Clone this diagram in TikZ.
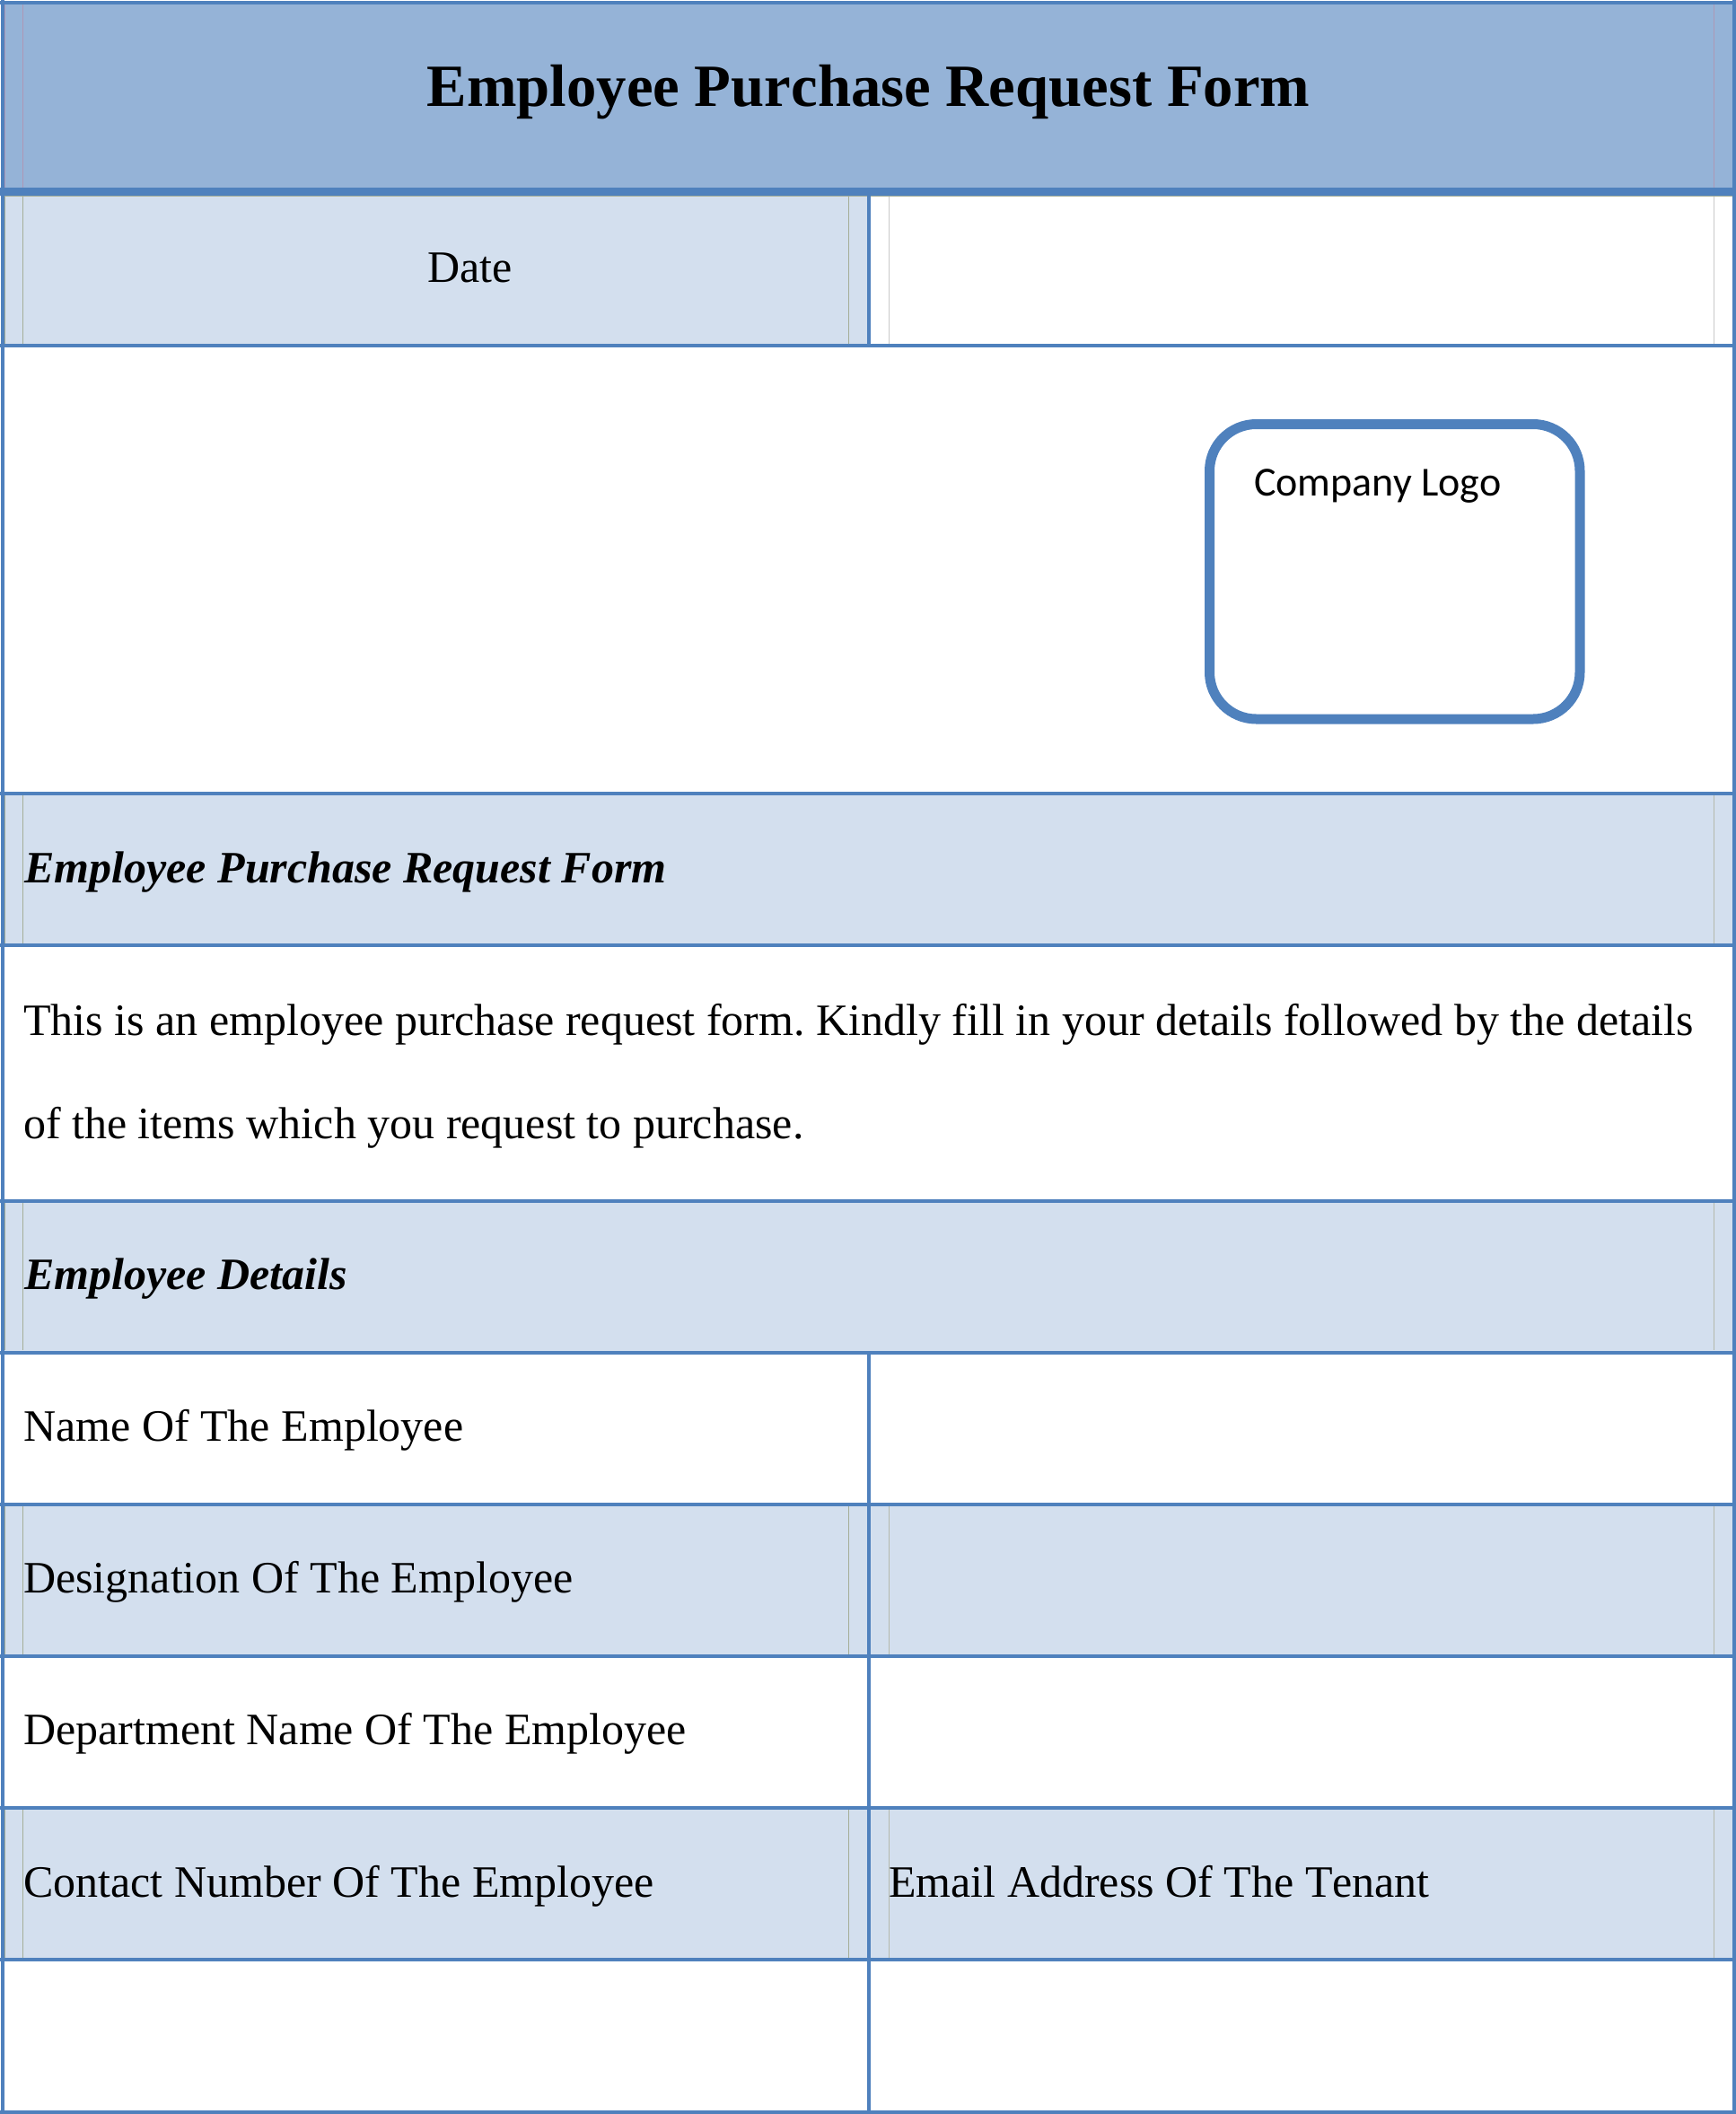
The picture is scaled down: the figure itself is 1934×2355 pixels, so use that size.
\documentclass[tikz,border=0pt]{standalone}
\usepackage{fontspec}
\setmainfont[Kerning=Off]{Liberation Serif}
\newfontfamily\logofont{Carlito}
\definecolor{rule}{HTML}{4F81BD}
\definecolor{headfill}{HTML}{95B3D7}
\definecolor{bandfill}{HTML}{D3DFEE}
\definecolor{faintband}{HTML}{A5AE98}
\definecolor{faintwhite}{HTML}{C9C9C9}
\definecolor{facepink}{HTML}{AD98B5}
\frenchspacing
\tikzset{
  bodytext/.style={anchor=base west,inner sep=0pt,font=\fontsize{50}{58}\selectfont},
  bandtext/.style={bodytext,font=\fontsize{50}{58}\selectfont\bfseries\itshape},
  titletext/.style={anchor=base,inner sep=0pt,font=\fontsize{66.7}{78}\selectfont\bfseries},
  logotext/.style={anchor=base west,inner sep=0pt,font=\logofont\fontsize{46}{54}\selectfont},
  rowline/.style={draw=rule,line width=4pt},
  heavyline/.style={draw=rule,line width=9pt},
  guide/.style={line width=1pt},
  logobox/.style={draw=rule,fill=white,line width=11pt,rounded corners=52pt}
}
\begin{document}
\begin{tikzpicture}[x=1pt,y=-1pt]
\useasboundingbox (0,0) rectangle (1934,2355);
\fill[white] (0,0) rectangle (1934,2355);
% fills
\fill[headfill] (3,3) rectangle (1931,213);
\foreach \a/\b in {218/385,884/1053,1337/1506,1676/1845,2014/2183}
  \fill[bandfill] (3,\a) rectangle (1931,\b);
\fill[white] (968,218) rectangle (1931,385);
% faint guide lines
\foreach \x in {5,25,1909}
  \draw[guide,facepink] (\x,5) -- (\x,209);
\foreach \a/\b in {218/383,884/1051,1337/1504,1676/1843,2014/2181}
  \foreach \x in {5,25}
    \draw[guide,faintband] (\x,\a) -- (\x,\b);
\draw[guide,faintwhite] (1909,218) -- (1909,383);
\foreach \a/\b in {884/1051,1337/1504,1676/1843,2014/2181}
  \draw[guide,faintband!60!faintwhite] (1909,\a) -- (1909,\b);
\foreach \a/\b in {218/383,1676/1843,2014/2181}
  \draw[guide,faintband] (945,\a) -- (945,\b);
\draw[guide,faintwhite] (990,218) -- (990,383);
\foreach \a/\b in {1676/1843,2014/2181}
  \draw[guide,faintband!60!faintwhite] (990,\a) -- (990,\b);
\draw[guide,faintband] (5,218.5) -- (1930,218.5);
% rules
\foreach \y in {385,884,1053,1338,1506.5,1676,1845,2014,2183,2353}
  \draw[rowline] (0,\y) -- (1934,\y);
\draw[rowline] (0,3) -- (1934,3);
\draw[heavyline] (0,213.5) -- (1934,213.5);
\draw[rowline] (3,0) -- (3,2355);
\draw[rowline] (1932,0) -- (1932,2355);
\draw[rowline] (968,218) -- (968,385);
\draw[rowline] (968,1506) -- (968,2355);
% logo
\draw[logobox] (1347.5,472.5) rectangle (1760,801);
\node[logotext] (logo) at (1397,552) {Company Logo};
% texts
\node[titletext] (title) at (967.5,118.5) {Employee Purchase Request Form};
\node[bodytext] (date) at (476,314.5) {Date};
\node[bandtext] (band1) at (27,983.5) {Employee Purchase Request Form};
\node[bodytext] (intro1) at (26,1153.5) {This is an employee purchase request form. Kindly fill in your details followed by the details};
\node[bodytext] (intro2) at (26,1268.5) {of the items which you request to purchase.};
\node[bandtext] (band2) at (27,1436) {Employee Details};
\node[bodytext] (name) at (26,1605.5) {Name Of The Employee};
\node[bodytext] (desig) at (26,1774.5) {Designation Of The Employee};
\node[bodytext] (dept) at (26,1943.5) {Department Name Of The Employee};
\node[bodytext] (contact) at (26,2113.5) {Contact Number Of The Employee};
\node[bodytext] (email) at (990,2113.5) {Email Address Of The Tenant};
\end{tikzpicture}
\end{document}
